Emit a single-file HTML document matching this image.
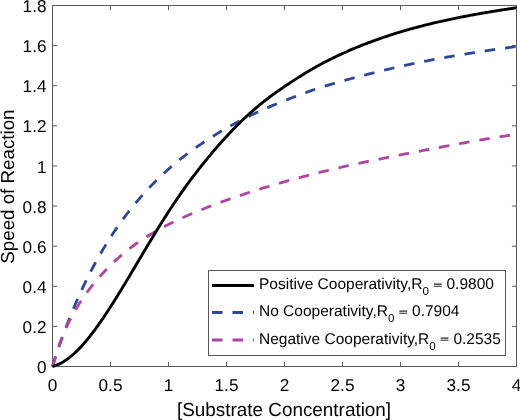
<!DOCTYPE html><html><head><meta charset="utf-8"><style>html,body{margin:0;padding:0;background:#fff;}svg{display:block;}</style></head><body>
<svg width="520" height="420" viewBox="0 0 520 420" font-family='"Liberation Sans", Arial, Helvetica, sans-serif' text-rendering="geometricPrecision">
<rect width="520" height="420" fill="#fff"/>
<g stroke="#5a5a5a" stroke-width="1" fill="none">
<rect x="52.5" y="5.5" width="464.0" height="361.0"/>
<path d="M52.50,366.5V361.90M52.50,5.5V10.10M110.50,366.5V361.90M110.50,5.5V10.10M168.50,366.5V361.90M168.50,5.5V10.10M226.50,366.5V361.90M226.50,5.5V10.10M284.50,366.5V361.90M284.50,5.5V10.10M342.50,366.5V361.90M342.50,5.5V10.10M400.50,366.5V361.90M400.50,5.5V10.10M458.50,366.5V361.90M458.50,5.5V10.10M516.50,366.5V361.90M516.50,5.5V10.10M52.5,366.50H57.10M516.5,366.50H511.90M52.5,326.39H57.10M516.5,326.39H511.90M52.5,286.28H57.10M516.5,286.28H511.90M52.5,246.17H57.10M516.5,246.17H511.90M52.5,206.06H57.10M516.5,206.06H511.90M52.5,165.94H57.10M516.5,165.94H511.90M52.5,125.83H57.10M516.5,125.83H511.90M52.5,85.72H57.10M516.5,85.72H511.90M52.5,45.61H57.10M516.5,45.61H511.90M52.5,5.50H57.10M516.5,5.50H511.90"/>
</g>
<g fill="none" stroke-linejoin="round">
<path d="M52.50,366.50 L53.66,362.83 L54.82,359.22 L55.98,355.67 L57.14,352.17 L58.30,348.74 L59.46,345.36 L60.62,342.04 L61.78,338.78 L62.94,335.56 L64.10,332.40 L65.26,329.28 L66.42,326.22 L67.58,323.20 L68.74,320.23 L69.90,317.30 L71.06,314.42 L72.22,311.59 L73.38,308.79 L74.54,306.04 L75.70,303.33 L76.86,300.66 L78.02,298.03 L79.18,295.43 L80.34,292.88 L81.50,290.36 L82.66,287.87 L83.82,285.42 L84.98,283.01 L86.14,280.63 L87.30,278.28 L88.46,275.96 L89.62,273.68 L90.78,271.43 L91.94,269.21 L93.10,267.02 L94.26,264.85 L95.42,262.72 L96.58,260.61 L97.74,258.53 L98.90,256.48 L100.06,254.46 L101.22,252.46 L102.38,250.49 L103.54,248.54 L104.70,246.62 L105.86,244.72 L107.02,242.85 L108.18,240.99 L109.34,239.17 L110.50,237.36 L111.66,235.58 L112.82,233.82 L113.98,232.07 L115.14,230.36 L116.30,228.66 L117.46,226.98 L118.62,225.32 L119.78,223.68 L120.94,222.06 L122.10,220.46 L123.26,218.88 L124.42,217.31 L125.58,215.77 L126.74,214.24 L127.90,212.73 L129.06,211.23 L130.22,209.76 L131.38,208.30 L132.54,206.85 L133.70,205.43 L134.86,204.02 L136.02,202.62 L137.18,201.24 L138.34,199.88 L139.50,198.53 L140.66,197.20 L141.82,195.88 L142.98,194.58 L144.14,193.29 L145.30,192.01 L146.46,190.75 L147.62,189.50 L148.78,188.27 L149.94,187.04 L151.10,185.84 L152.26,184.64 L153.42,183.46 L154.58,182.29 L155.74,181.13 L156.90,179.98 L158.06,178.85 L159.22,177.72 L160.38,176.61 L161.54,175.51 L162.70,174.42 L163.86,173.34 L165.02,172.28 L166.18,171.22 L167.34,170.17 L168.50,169.14 L169.66,168.11 L170.82,167.09 L171.98,166.09 L173.14,165.10 L174.30,164.12 L175.46,163.15 L176.62,162.19 L177.78,161.24 L178.94,160.30 L180.10,159.37 L181.26,158.45 L182.42,157.54 L183.58,156.64 L184.74,155.74 L185.90,154.86 L187.06,153.99 L188.22,153.12 L189.38,152.26 L190.54,151.41 L191.70,150.57 L192.86,149.74 L194.02,148.91 L195.18,148.09 L196.34,147.28 L197.50,146.47 L198.66,145.67 L199.82,144.88 L200.98,144.09 L202.14,143.31 L203.30,142.53 L204.46,141.76 L205.62,141.00 L206.78,140.24 L207.94,139.48 L209.10,138.73 L210.26,137.99 L211.42,137.25 L212.58,136.51 L213.74,135.79 L214.90,135.06 L216.06,134.35 L217.22,133.64 L218.38,132.93 L219.54,132.24 L220.70,131.54 L221.86,130.86 L223.02,130.17 L224.18,129.50 L225.34,128.83 L226.50,128.16 L227.66,127.50 L228.82,126.85 L229.98,126.20 L231.14,125.55 L232.30,124.91 L233.46,124.28 L234.62,123.65 L235.78,123.02 L236.94,122.40 L238.10,121.79 L239.26,121.18 L240.42,120.57 L241.58,119.97 L242.74,119.38 L243.90,118.78 L245.06,118.20 L246.22,117.62 L247.38,117.04 L248.54,116.46 L249.70,115.90 L250.86,115.33 L252.02,114.77 L253.18,114.22 L254.34,113.67 L255.50,113.12 L256.66,112.58 L257.82,112.04 L258.98,111.50 L260.14,110.97 L261.30,110.45 L262.46,109.92 L263.62,109.41 L264.78,108.89 L265.94,108.38 L267.10,107.87 L268.26,107.37 L269.42,106.87 L270.58,106.37 L271.74,105.88 L272.90,105.39 L274.06,104.91 L275.22,104.42 L276.38,103.94 L277.54,103.47 L278.70,103.00 L279.86,102.53 L281.02,102.06 L282.18,101.60 L283.34,101.14 L284.50,100.68 L285.66,100.23 L286.82,99.77 L287.98,99.33 L289.14,98.88 L290.30,98.44 L291.46,97.99 L292.62,97.55 L293.78,97.10 L294.94,96.66 L296.10,96.21 L297.26,95.76 L298.42,95.32 L299.58,94.87 L300.74,94.43 L301.90,93.99 L303.06,93.56 L304.22,93.13 L305.38,92.71 L306.54,92.29 L307.70,91.87 L308.86,91.46 L310.02,91.06 L311.18,90.67 L312.34,90.28 L313.50,89.89 L314.66,89.50 L315.82,89.12 L316.98,88.74 L318.14,88.36 L319.30,87.98 L320.46,87.61 L321.62,87.24 L322.78,86.87 L323.94,86.50 L325.10,86.14 L326.26,85.78 L327.42,85.42 L328.58,85.07 L329.74,84.71 L330.90,84.36 L332.06,84.01 L333.22,83.67 L334.38,83.32 L335.54,82.98 L336.70,82.64 L337.86,82.30 L339.02,81.97 L340.18,81.64 L341.34,81.31 L342.50,80.98 L343.66,80.65 L344.82,80.32 L345.98,80.00 L347.14,79.68 L348.30,79.36 L349.46,79.05 L350.62,78.73 L351.78,78.42 L352.94,78.11 L354.10,77.80 L355.26,77.49 L356.42,77.18 L357.58,76.88 L358.74,76.58 L359.90,76.28 L361.06,75.98 L362.22,75.68 L363.38,75.39 L364.54,75.09 L365.70,74.80 L366.86,74.51 L368.02,74.22 L369.18,73.93 L370.34,73.65 L371.50,73.36 L372.66,73.07 L373.82,72.79 L374.98,72.50 L376.14,72.21 L377.30,71.92 L378.46,71.64 L379.62,71.35 L380.78,71.06 L381.94,70.78 L383.10,70.49 L384.26,70.21 L385.42,69.92 L386.58,69.64 L387.74,69.36 L388.90,69.07 L390.06,68.79 L391.22,68.51 L392.38,68.24 L393.54,67.96 L394.70,67.68 L395.86,67.41 L397.02,67.14 L398.18,66.87 L399.34,66.60 L400.50,66.33 L401.66,66.07 L402.82,65.81 L403.98,65.55 L405.14,65.29 L406.30,65.03 L407.46,64.78 L408.62,64.53 L409.78,64.29 L410.94,64.04 L412.10,63.80 L413.26,63.56 L414.42,63.32 L415.58,63.08 L416.74,62.85 L417.90,62.61 L419.06,62.38 L420.22,62.15 L421.38,61.92 L422.54,61.69 L423.70,61.46 L424.86,61.24 L426.02,61.01 L427.18,60.79 L428.34,60.57 L429.50,60.35 L430.66,60.13 L431.82,59.91 L432.98,59.70 L434.14,59.48 L435.30,59.27 L436.46,59.05 L437.62,58.84 L438.78,58.63 L439.94,58.42 L441.10,58.21 L442.26,58.00 L443.42,57.80 L444.58,57.59 L445.74,57.38 L446.90,57.18 L448.06,56.98 L449.22,56.77 L450.38,56.57 L451.54,56.37 L452.70,56.17 L453.86,55.97 L455.02,55.77 L456.18,55.57 L457.34,55.37 L458.50,55.18 L459.66,54.98 L460.82,54.79 L461.98,54.59 L463.14,54.40 L464.30,54.21 L465.46,54.02 L466.62,53.82 L467.78,53.63 L468.94,53.45 L470.10,53.26 L471.26,53.07 L472.42,52.89 L473.58,52.70 L474.74,52.52 L475.90,52.33 L477.06,52.15 L478.22,51.97 L479.38,51.79 L480.54,51.61 L481.70,51.43 L482.86,51.25 L484.02,51.08 L485.18,50.90 L486.34,50.73 L487.50,50.55 L488.66,50.38 L489.82,50.21 L490.98,50.04 L492.14,49.87 L493.30,49.70 L494.46,49.53 L495.62,49.37 L496.78,49.20 L497.94,49.03 L499.10,48.87 L500.26,48.71 L501.42,48.54 L502.58,48.38 L503.74,48.22 L504.90,48.06 L506.06,47.90 L507.22,47.74 L508.38,47.59 L509.54,47.43 L510.70,47.27 L511.86,47.12 L513.02,46.96 L514.18,46.81 L515.34,46.66 L516.50,46.51" stroke="#2e4699" stroke-width="2.8" stroke-dasharray="10.5 10"/>
<path d="M52.50,366.53 L53.66,362.37 L54.82,358.42 L55.98,354.65 L57.14,351.06 L58.30,347.62 L59.46,344.34 L60.62,341.20 L61.78,338.18 L62.94,335.29 L64.10,332.51 L65.26,329.83 L66.42,327.25 L67.58,324.78 L68.74,322.39 L69.90,320.09 L71.06,317.87 L72.22,315.71 L73.38,313.61 L74.54,311.57 L75.70,309.57 L76.86,307.62 L78.02,305.70 L79.18,303.83 L80.34,302.01 L81.50,300.23 L82.66,298.50 L83.82,296.81 L84.98,295.16 L86.14,293.56 L87.30,291.99 L88.46,290.44 L89.62,288.92 L90.78,287.42 L91.94,285.95 L93.10,284.49 L94.26,283.06 L95.42,281.65 L96.58,280.27 L97.74,278.91 L98.90,277.57 L100.06,276.25 L101.22,274.96 L102.38,273.69 L103.54,272.44 L104.70,271.22 L105.86,270.00 L107.02,268.81 L108.18,267.62 L109.34,266.46 L110.50,265.31 L111.66,264.17 L112.82,263.06 L113.98,261.96 L115.14,260.88 L116.30,259.81 L117.46,258.74 L118.62,257.69 L119.78,256.65 L120.94,255.62 L122.10,254.60 L123.26,253.61 L124.42,252.62 L125.58,251.66 L126.74,250.72 L127.90,249.80 L129.06,248.90 L130.22,248.03 L131.38,247.18 L132.54,246.33 L133.70,245.50 L134.86,244.67 L136.02,243.86 L137.18,243.05 L138.34,242.26 L139.50,241.47 L140.66,240.69 L141.82,239.93 L142.98,239.17 L144.14,238.42 L145.30,237.67 L146.46,236.94 L147.62,236.22 L148.78,235.50 L149.94,234.79 L151.10,234.09 L152.26,233.39 L153.42,232.71 L154.58,232.03 L155.74,231.35 L156.90,230.69 L158.06,230.03 L159.22,229.38 L160.38,228.73 L161.54,228.10 L162.70,227.46 L163.86,226.84 L165.02,226.22 L166.18,225.61 L167.34,225.01 L168.50,224.41 L169.66,223.82 L170.82,223.24 L171.98,222.67 L173.14,222.10 L174.30,221.54 L175.46,220.98 L176.62,220.44 L177.78,219.89 L178.94,219.36 L180.10,218.82 L181.26,218.30 L182.42,217.78 L183.58,217.26 L184.74,216.74 L185.90,216.24 L187.06,215.73 L188.22,215.23 L189.38,214.73 L190.54,214.24 L191.70,213.75 L192.86,213.26 L194.02,212.77 L195.18,212.29 L196.34,211.80 L197.50,211.33 L198.66,210.85 L199.82,210.37 L200.98,209.90 L202.14,209.42 L203.30,208.96 L204.46,208.49 L205.62,208.03 L206.78,207.57 L207.94,207.11 L209.10,206.66 L210.26,206.21 L211.42,205.76 L212.58,205.32 L213.74,204.87 L214.90,204.43 L216.06,204.00 L217.22,203.56 L218.38,203.13 L219.54,202.70 L220.70,202.27 L221.86,201.85 L223.02,201.42 L224.18,201.00 L225.34,200.59 L226.50,200.17 L227.66,199.76 L228.82,199.35 L229.98,198.94 L231.14,198.53 L232.30,198.13 L233.46,197.72 L234.62,197.32 L235.78,196.92 L236.94,196.53 L238.10,196.13 L239.26,195.74 L240.42,195.35 L241.58,194.96 L242.74,194.57 L243.90,194.19 L245.06,193.80 L246.22,193.42 L247.38,193.04 L248.54,192.66 L249.70,192.28 L250.86,191.91 L252.02,191.54 L253.18,191.16 L254.34,190.79 L255.50,190.43 L256.66,190.06 L257.82,189.69 L258.98,189.33 L260.14,188.97 L261.30,188.61 L262.46,188.25 L263.62,187.90 L264.78,187.54 L265.94,187.19 L267.10,186.84 L268.26,186.49 L269.42,186.14 L270.58,185.79 L271.74,185.45 L272.90,185.10 L274.06,184.76 L275.22,184.42 L276.38,184.08 L277.54,183.74 L278.70,183.41 L279.86,183.07 L281.02,182.74 L282.18,182.41 L283.34,182.08 L284.50,181.75 L285.66,181.42 L286.82,181.10 L287.98,180.77 L289.14,180.45 L290.30,180.13 L291.46,179.81 L292.62,179.49 L293.78,179.17 L294.94,178.86 L296.10,178.54 L297.26,178.23 L298.42,177.92 L299.58,177.60 L300.74,177.29 L301.90,176.99 L303.06,176.68 L304.22,176.37 L305.38,176.07 L306.54,175.77 L307.70,175.47 L308.86,175.17 L310.02,174.87 L311.18,174.57 L312.34,174.27 L313.50,173.98 L314.66,173.68 L315.82,173.39 L316.98,173.10 L318.14,172.81 L319.30,172.52 L320.46,172.23 L321.62,171.94 L322.78,171.66 L323.94,171.37 L325.10,171.09 L326.26,170.81 L327.42,170.53 L328.58,170.25 L329.74,169.97 L330.90,169.69 L332.06,169.42 L333.22,169.14 L334.38,168.87 L335.54,168.60 L336.70,168.33 L337.86,168.06 L339.02,167.79 L340.18,167.52 L341.34,167.25 L342.50,166.99 L343.66,166.72 L344.82,166.46 L345.98,166.20 L347.14,165.94 L348.30,165.68 L349.46,165.42 L350.62,165.16 L351.78,164.90 L352.94,164.65 L354.10,164.39 L355.26,164.14 L356.42,163.89 L357.58,163.64 L358.74,163.38 L359.90,163.13 L361.06,162.88 L362.22,162.64 L363.38,162.39 L364.54,162.14 L365.70,161.90 L366.86,161.65 L368.02,161.41 L369.18,161.16 L370.34,160.92 L371.50,160.68 L372.66,160.44 L373.82,160.20 L374.98,159.96 L376.14,159.72 L377.30,159.48 L378.46,159.25 L379.62,159.01 L380.78,158.78 L381.94,158.54 L383.10,158.31 L384.26,158.07 L385.42,157.84 L386.58,157.61 L387.74,157.38 L388.90,157.14 L390.06,156.91 L391.22,156.68 L392.38,156.45 L393.54,156.23 L394.70,156.00 L395.86,155.77 L397.02,155.54 L398.18,155.32 L399.34,155.09 L400.50,154.87 L401.66,154.64 L402.82,154.42 L403.98,154.19 L405.14,153.97 L406.30,153.74 L407.46,153.52 L408.62,153.30 L409.78,153.08 L410.94,152.86 L412.10,152.63 L413.26,152.41 L414.42,152.19 L415.58,151.97 L416.74,151.75 L417.90,151.52 L419.06,151.30 L420.22,151.08 L421.38,150.86 L422.54,150.64 L423.70,150.41 L424.86,150.19 L426.02,149.97 L427.18,149.75 L428.34,149.53 L429.50,149.30 L430.66,149.08 L431.82,148.86 L432.98,148.64 L434.14,148.42 L435.30,148.20 L436.46,147.98 L437.62,147.76 L438.78,147.54 L439.94,147.32 L441.10,147.10 L442.26,146.88 L443.42,146.66 L444.58,146.44 L445.74,146.23 L446.90,146.01 L448.06,145.79 L449.22,145.57 L450.38,145.36 L451.54,145.14 L452.70,144.93 L453.86,144.71 L455.02,144.50 L456.18,144.28 L457.34,144.07 L458.50,143.86 L459.66,143.65 L460.82,143.44 L461.98,143.22 L463.14,143.01 L464.30,142.80 L465.46,142.60 L466.62,142.39 L467.78,142.18 L468.94,141.97 L470.10,141.77 L471.26,141.56 L472.42,141.36 L473.58,141.15 L474.74,140.95 L475.90,140.75 L477.06,140.55 L478.22,140.35 L479.38,140.15 L480.54,139.95 L481.70,139.75 L482.86,139.56 L484.02,139.36 L485.18,139.17 L486.34,138.97 L487.50,138.78 L488.66,138.59 L489.82,138.40 L490.98,138.21 L492.14,138.02 L493.30,137.84 L494.46,137.65 L495.62,137.47 L496.78,137.28 L497.94,137.10 L499.10,136.92 L500.26,136.74 L501.42,136.56 L502.58,136.38 L503.74,136.21 L504.90,136.03 L506.06,135.86 L507.22,135.68 L508.38,135.51 L509.54,135.34 L510.70,135.17 L511.86,135.00 L513.02,134.82 L514.18,134.65 L515.34,134.48 L516.50,134.31" stroke="#b0449f" stroke-width="2.8" stroke-dasharray="10.5 10"/>
<path d="M52.50,366.49 L53.66,366.16 L54.82,365.78 L55.98,365.37 L57.14,364.91 L58.30,364.40 L59.46,363.86 L60.62,363.28 L61.78,362.65 L62.94,361.99 L64.10,361.28 L65.26,360.54 L66.42,359.75 L67.58,358.93 L68.74,358.07 L69.90,357.17 L71.06,356.23 L72.22,355.26 L73.38,354.25 L74.54,353.20 L75.70,352.12 L76.86,351.01 L78.02,349.86 L79.18,348.67 L80.34,347.46 L81.50,346.21 L82.66,344.94 L83.82,343.63 L84.98,342.29 L86.14,340.92 L87.30,339.53 L88.46,338.11 L89.62,336.66 L90.78,335.19 L91.94,333.69 L93.10,332.16 L94.26,330.62 L95.42,329.05 L96.58,327.46 L97.74,325.84 L98.90,324.21 L100.06,322.55 L101.22,320.88 L102.38,319.19 L103.54,317.48 L104.70,315.75 L105.86,314.01 L107.02,312.25 L108.18,310.47 L109.34,308.68 L110.50,306.88 L111.66,305.06 L112.82,303.24 L113.98,301.39 L115.14,299.54 L116.30,297.68 L117.46,295.81 L118.62,293.93 L119.78,292.04 L120.94,290.14 L122.10,288.24 L123.26,286.33 L124.42,284.41 L125.58,282.49 L126.74,280.56 L127.90,278.62 L129.06,276.69 L130.22,274.75 L131.38,272.80 L132.54,270.85 L133.70,268.90 L134.86,266.95 L136.02,265.00 L137.18,263.04 L138.34,261.09 L139.50,259.13 L140.66,257.18 L141.82,255.23 L142.98,253.28 L144.14,251.33 L145.30,249.39 L146.46,247.45 L147.62,245.51 L148.78,243.58 L149.94,241.65 L151.10,239.73 L152.26,237.82 L153.42,235.92 L154.58,234.02 L155.74,232.13 L156.90,230.24 L158.06,228.36 L159.22,226.49 L160.38,224.62 L161.54,222.76 L162.70,220.91 L163.86,219.07 L165.02,217.25 L166.18,215.43 L167.34,213.62 L168.50,211.83 L169.66,210.04 L170.82,208.27 L171.98,206.52 L173.14,204.77 L174.30,203.03 L175.46,201.31 L176.62,199.60 L177.78,197.90 L178.94,196.21 L180.10,194.53 L181.26,192.86 L182.42,191.20 L183.58,189.56 L184.74,187.93 L185.90,186.30 L187.06,184.69 L188.22,183.09 L189.38,181.50 L190.54,179.92 L191.70,178.36 L192.86,176.82 L194.02,175.30 L195.18,173.78 L196.34,172.29 L197.50,170.81 L198.66,169.33 L199.82,167.88 L200.98,166.43 L202.14,164.99 L203.30,163.55 L204.46,162.13 L205.62,160.71 L206.78,159.30 L207.94,157.89 L209.10,156.48 L210.26,155.08 L211.42,153.68 L212.58,152.29 L213.74,150.92 L214.90,149.55 L216.06,148.20 L217.22,146.85 L218.38,145.52 L219.54,144.19 L220.70,142.88 L221.86,141.58 L223.02,140.29 L224.18,139.00 L225.34,137.73 L226.50,136.47 L227.66,135.22 L228.82,133.98 L229.98,132.75 L231.14,131.53 L232.30,130.32 L233.46,129.12 L234.62,127.94 L235.78,126.76 L236.94,125.59 L238.10,124.43 L239.26,123.28 L240.42,122.14 L241.58,121.02 L242.74,119.90 L243.90,118.79 L245.06,117.69 L246.22,116.60 L247.38,115.52 L248.54,114.46 L249.70,113.40 L250.86,112.35 L252.02,111.31 L253.18,110.29 L254.34,109.29 L255.50,108.29 L256.66,107.31 L257.82,106.34 L258.98,105.38 L260.14,104.44 L261.30,103.50 L262.46,102.58 L263.62,101.66 L264.78,100.76 L265.94,99.86 L267.10,98.98 L268.26,98.10 L269.42,97.23 L270.58,96.37 L271.74,95.52 L272.90,94.68 L274.06,93.84 L275.22,93.01 L276.38,92.18 L277.54,91.37 L278.70,90.55 L279.86,89.75 L281.02,88.94 L282.18,88.14 L283.34,87.35 L284.50,86.56 L285.66,85.78 L286.82,84.99 L287.98,84.21 L289.14,83.43 L290.30,82.66 L291.46,81.89 L292.62,81.12 L293.78,80.36 L294.94,79.61 L296.10,78.86 L297.26,78.12 L298.42,77.38 L299.58,76.65 L300.74,75.92 L301.90,75.20 L303.06,74.48 L304.22,73.78 L305.38,73.07 L306.54,72.37 L307.70,71.68 L308.86,71.00 L310.02,70.31 L311.18,69.64 L312.34,68.97 L313.50,68.31 L314.66,67.65 L315.82,67.00 L316.98,66.35 L318.14,65.71 L319.30,65.07 L320.46,64.44 L321.62,63.82 L322.78,63.20 L323.94,62.59 L325.10,61.98 L326.26,61.38 L327.42,60.79 L328.58,60.20 L329.74,59.62 L330.90,59.04 L332.06,58.47 L333.22,57.90 L334.38,57.34 L335.54,56.78 L336.70,56.23 L337.86,55.68 L339.02,55.13 L340.18,54.59 L341.34,54.06 L342.50,53.53 L343.66,53.00 L344.82,52.48 L345.98,51.97 L347.14,51.45 L348.30,50.94 L349.46,50.44 L350.62,49.94 L351.78,49.44 L352.94,48.95 L354.10,48.47 L355.26,47.98 L356.42,47.50 L357.58,47.03 L358.74,46.56 L359.90,46.09 L361.06,45.62 L362.22,45.16 L363.38,44.71 L364.54,44.26 L365.70,43.81 L366.86,43.36 L368.02,42.92 L369.18,42.48 L370.34,42.05 L371.50,41.62 L372.66,41.19 L373.82,40.77 L374.98,40.35 L376.14,39.93 L377.30,39.52 L378.46,39.11 L379.62,38.70 L380.78,38.30 L381.94,37.90 L383.10,37.50 L384.26,37.11 L385.42,36.72 L386.58,36.33 L387.74,35.95 L388.90,35.57 L390.06,35.19 L391.22,34.82 L392.38,34.45 L393.54,34.08 L394.70,33.71 L395.86,33.35 L397.02,32.99 L398.18,32.63 L399.34,32.28 L400.50,31.93 L401.66,31.58 L402.82,31.23 L403.98,30.89 L405.14,30.55 L406.30,30.22 L407.46,29.88 L408.62,29.55 L409.78,29.22 L410.94,28.89 L412.10,28.57 L413.26,28.25 L414.42,27.93 L415.58,27.62 L416.74,27.30 L417.90,26.99 L419.06,26.69 L420.22,26.38 L421.38,26.08 L422.54,25.78 L423.70,25.49 L424.86,25.19 L426.02,24.90 L427.18,24.61 L428.34,24.32 L429.50,24.04 L430.66,23.76 L431.82,23.48 L432.98,23.20 L434.14,22.93 L435.30,22.65 L436.46,22.38 L437.62,22.11 L438.78,21.85 L439.94,21.58 L441.10,21.32 L442.26,21.06 L443.42,20.81 L444.58,20.55 L445.74,20.30 L446.90,20.04 L448.06,19.79 L449.22,19.55 L450.38,19.30 L451.54,19.06 L452.70,18.82 L453.86,18.57 L455.02,18.34 L456.18,18.10 L457.34,17.87 L458.50,17.63 L459.66,17.40 L460.82,17.17 L461.98,16.94 L463.14,16.72 L464.30,16.49 L465.46,16.27 L466.62,16.05 L467.78,15.83 L468.94,15.61 L470.10,15.39 L471.26,15.18 L472.42,14.96 L473.58,14.75 L474.74,14.54 L475.90,14.33 L477.06,14.12 L478.22,13.91 L479.38,13.71 L480.54,13.50 L481.70,13.30 L482.86,13.10 L484.02,12.90 L485.18,12.70 L486.34,12.50 L487.50,12.31 L488.66,12.11 L489.82,11.91 L490.98,11.72 L492.14,11.53 L493.30,11.34 L494.46,11.15 L495.62,10.96 L496.78,10.77 L497.94,10.59 L499.10,10.40 L500.26,10.22 L501.42,10.04 L502.58,9.86 L503.74,9.68 L504.90,9.50 L506.06,9.32 L507.22,9.15 L508.38,8.97 L509.54,8.80 L510.70,8.62 L511.86,8.45 L513.02,8.28 L514.18,8.11 L515.34,7.94 L516.50,7.78" stroke="#000" stroke-width="2.9"/>
</g>
<g font-size="17.2" fill="#000">
<text x="52.50" y="391" text-anchor="middle">0</text>
<text x="110.50" y="391" text-anchor="middle">0.5</text>
<text x="168.50" y="391" text-anchor="middle">1</text>
<text x="226.50" y="391" text-anchor="middle">1.5</text>
<text x="284.50" y="391" text-anchor="middle">2</text>
<text x="342.50" y="391" text-anchor="middle">2.5</text>
<text x="400.50" y="391" text-anchor="middle">3</text>
<text x="458.50" y="391" text-anchor="middle">3.5</text>
<text x="516.50" y="391" text-anchor="middle">4</text>
<text x="46.5" y="373.10" text-anchor="end">0</text>
<text x="46.5" y="332.99" text-anchor="end">0.2</text>
<text x="46.5" y="292.88" text-anchor="end">0.4</text>
<text x="46.5" y="252.77" text-anchor="end">0.6</text>
<text x="46.5" y="212.66" text-anchor="end">0.8</text>
<text x="46.5" y="172.54" text-anchor="end">1</text>
<text x="46.5" y="132.43" text-anchor="end">1.2</text>
<text x="46.5" y="92.32" text-anchor="end">1.4</text>
<text x="46.5" y="52.21" text-anchor="end">1.6</text>
<text x="46.5" y="12.10" text-anchor="end">1.8</text>
</g>
<text x="284" y="415.5" font-size="18.9" text-anchor="middle">[Substrate Concentration]</text>
<text transform="translate(13.8,186.6) rotate(-90)" x="0" y="0" font-size="18.74" text-anchor="middle">Speed of Reaction</text>
<rect x="208.5" y="270.5" width="297" height="85" fill="#fff" stroke="#5a5a5a" stroke-width="1"/>
<path d="M212,285.5H254" stroke="#000" stroke-width="2.8"/>
<text x="259" y="289.0" font-size="15.5">Positive Cooperativity,R<tspan font-size="11.62" dy="6">0</tspan></text>
<text transform="translate(433.16,287.60) scale(1,0.55)" font-size="15.5" stroke="#000" stroke-width="0.3" vector-effect="non-scaling-stroke">=</text>
<text x="442.2" y="289.0" font-size="15.5" xml:space="preserve"> 0.9800</text>
<path d="M212,312.5H254" stroke="#2e4699" stroke-width="2.8" stroke-dasharray="10.5 10"/>
<text x="259" y="316.0" font-size="15.5">No Cooperativity,R<tspan font-size="11.62" dy="6">0</tspan></text>
<text transform="translate(398.7,314.60) scale(1,0.55)" font-size="15.5" stroke="#000" stroke-width="0.3" vector-effect="non-scaling-stroke">=</text>
<text x="407.75" y="316.0" font-size="15.5" xml:space="preserve"> 0.7904</text>
<path d="M212,340H254" stroke="#b0449f" stroke-width="2.8" stroke-dasharray="10.5 10"/>
<text x="259" y="343.5" font-size="15.5">Negative Cooperativity,R<tspan font-size="11.62" dy="6">0</tspan></text>
<text transform="translate(440.06,342.10) scale(1,0.55)" font-size="15.5" stroke="#000" stroke-width="0.3" vector-effect="non-scaling-stroke">=</text>
<text x="449.11" y="343.5" font-size="15.5" xml:space="preserve"> 0.2535</text>
</svg></body></html>
